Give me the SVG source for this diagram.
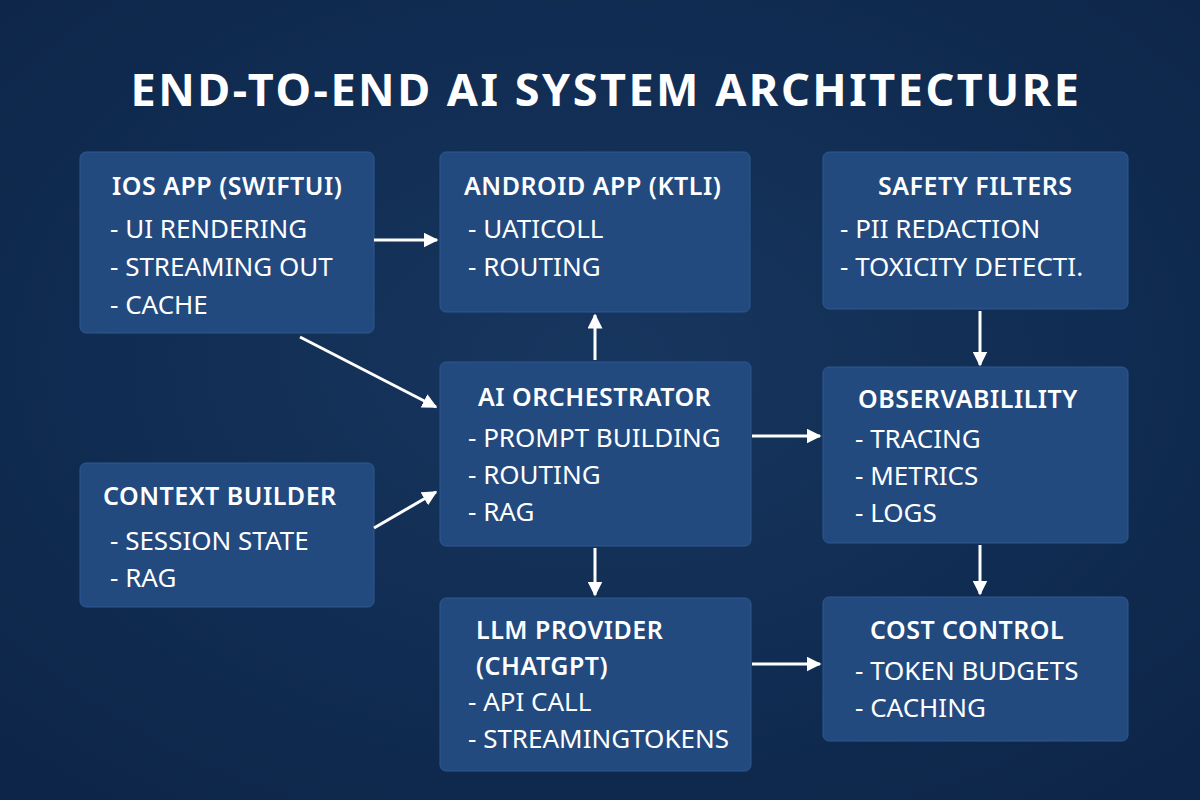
<svg xmlns="http://www.w3.org/2000/svg" width="1200" height="800" viewBox="0 0 1200 800">
<defs>
<radialGradient id="bg" cx="50%" cy="45%" r="75%"><stop offset="0" stop-color="#17365f"/><stop offset="1" stop-color="#0c2447"/></radialGradient>
<marker id="ah" viewBox="0 0 10 10" refX="9" refY="5" markerWidth="5" markerHeight="5" orient="auto"><path d="M0,0 L10,5 L0,10 z" fill="#fff"/></marker>
</defs>
<style>
.box{fill:#234a7f;stroke:#2c5890;stroke-width:1}
.h{font-family:"Noto Sans","Open Sans",sans-serif;font-weight:600;font-size:25px;fill:#fff;letter-spacing:0.5px}
.t{font-family:"Noto Sans","Open Sans",sans-serif;font-size:26px;fill:#fff}
.c line{stroke:#fff;stroke-width:3;marker-end:url(#ah)}
</style>
<rect width="1200" height="800" fill="url(#bg)"/>
<text x="606" y="106" text-anchor="middle" font-family="Noto Sans,Open Sans,sans-serif" font-weight="bold" font-size="45" fill="#fff" letter-spacing="2.5">END-TO-END AI SYSTEM ARCHITECTURE</text>
<g id="ios"><rect class="box" x="80" y="152" width="294" height="181" rx="6"/><text class="h" x="112" y="195">IOS APP (SWIFTUI)</text><text class="t" x="110" y="238">- UI RENDERING</text><text class="t" x="110" y="276">- STREAMING OUT</text><text class="t" x="110" y="314">- CACHE</text></g>
<g id="android"><rect class="box" x="440" y="152" width="310" height="160" rx="6"/><text class="h" x="464" y="195">ANDROID APP (KTLI)</text><text class="t" x="468" y="238">- UATICOLL</text><text class="t" x="468" y="276">- ROUTING</text></g>
<g id="safety"><rect class="box" x="823" y="152" width="305" height="157" rx="6"/><text class="h" x="878" y="195">SAFETY FILTERS</text><text class="t" x="840" y="238">- PII REDACTION</text><text class="t" x="840" y="276">- TOXICITY DETECTI.</text></g>
<g id="orchestrator"><rect class="box" x="440" y="362" width="311" height="184" rx="6"/><text class="h" x="478" y="406">AI ORCHESTRATOR</text><text class="t" x="468" y="447">- PROMPT BUILDING</text><text class="t" x="468" y="484">- ROUTING</text><text class="t" x="468" y="521">- RAG</text></g>
<g id="observability"><rect class="box" x="823" y="367" width="305" height="176" rx="6"/><text class="h" x="858" y="408">OBSERVABILILITY</text><text class="t" x="855" y="448">- TRACING</text><text class="t" x="855" y="485">- METRICS</text><text class="t" x="855" y="522">- LOGS</text></g>
<g id="context"><rect class="box" x="80" y="463" width="294" height="144" rx="6"/><text class="h" x="103" y="505">CONTEXT BUILDER</text><text class="t" x="110" y="550">- SESSION STATE</text><text class="t" x="110" y="587">- RAG</text></g>
<g id="llm"><rect class="box" x="440" y="598" width="311" height="173" rx="6"/><text class="h" x="476" y="639">LLM PROVIDER</text><text class="h" x="476" y="675">(CHATGPT)</text><text class="t" x="468" y="711">- API CALL</text><text class="t" x="468" y="748">- STREAMINGTOKENS</text></g>
<g id="cost"><rect class="box" x="823" y="597" width="305" height="144" rx="6"/><text class="h" x="870" y="639">COST CONTROL</text><text class="t" x="855" y="680">- TOKEN BUDGETS</text><text class="t" x="855" y="717">- CACHING</text></g>
<g class="c" id="connectors">
<line x1="374" y1="240" x2="437" y2="240"/>
<line x1="300" y1="337" x2="436" y2="407"/>
<line x1="374" y1="528" x2="436" y2="492"/>
<line x1="595" y1="360" x2="595" y2="315"/>
<line x1="752" y1="436" x2="820" y2="436"/>
<line x1="980" y1="311" x2="980" y2="365"/>
<line x1="595" y1="548" x2="595" y2="595"/>
<line x1="980" y1="545" x2="980" y2="594"/>
<line x1="752" y1="664" x2="820" y2="664"/>
</g>
</svg>
